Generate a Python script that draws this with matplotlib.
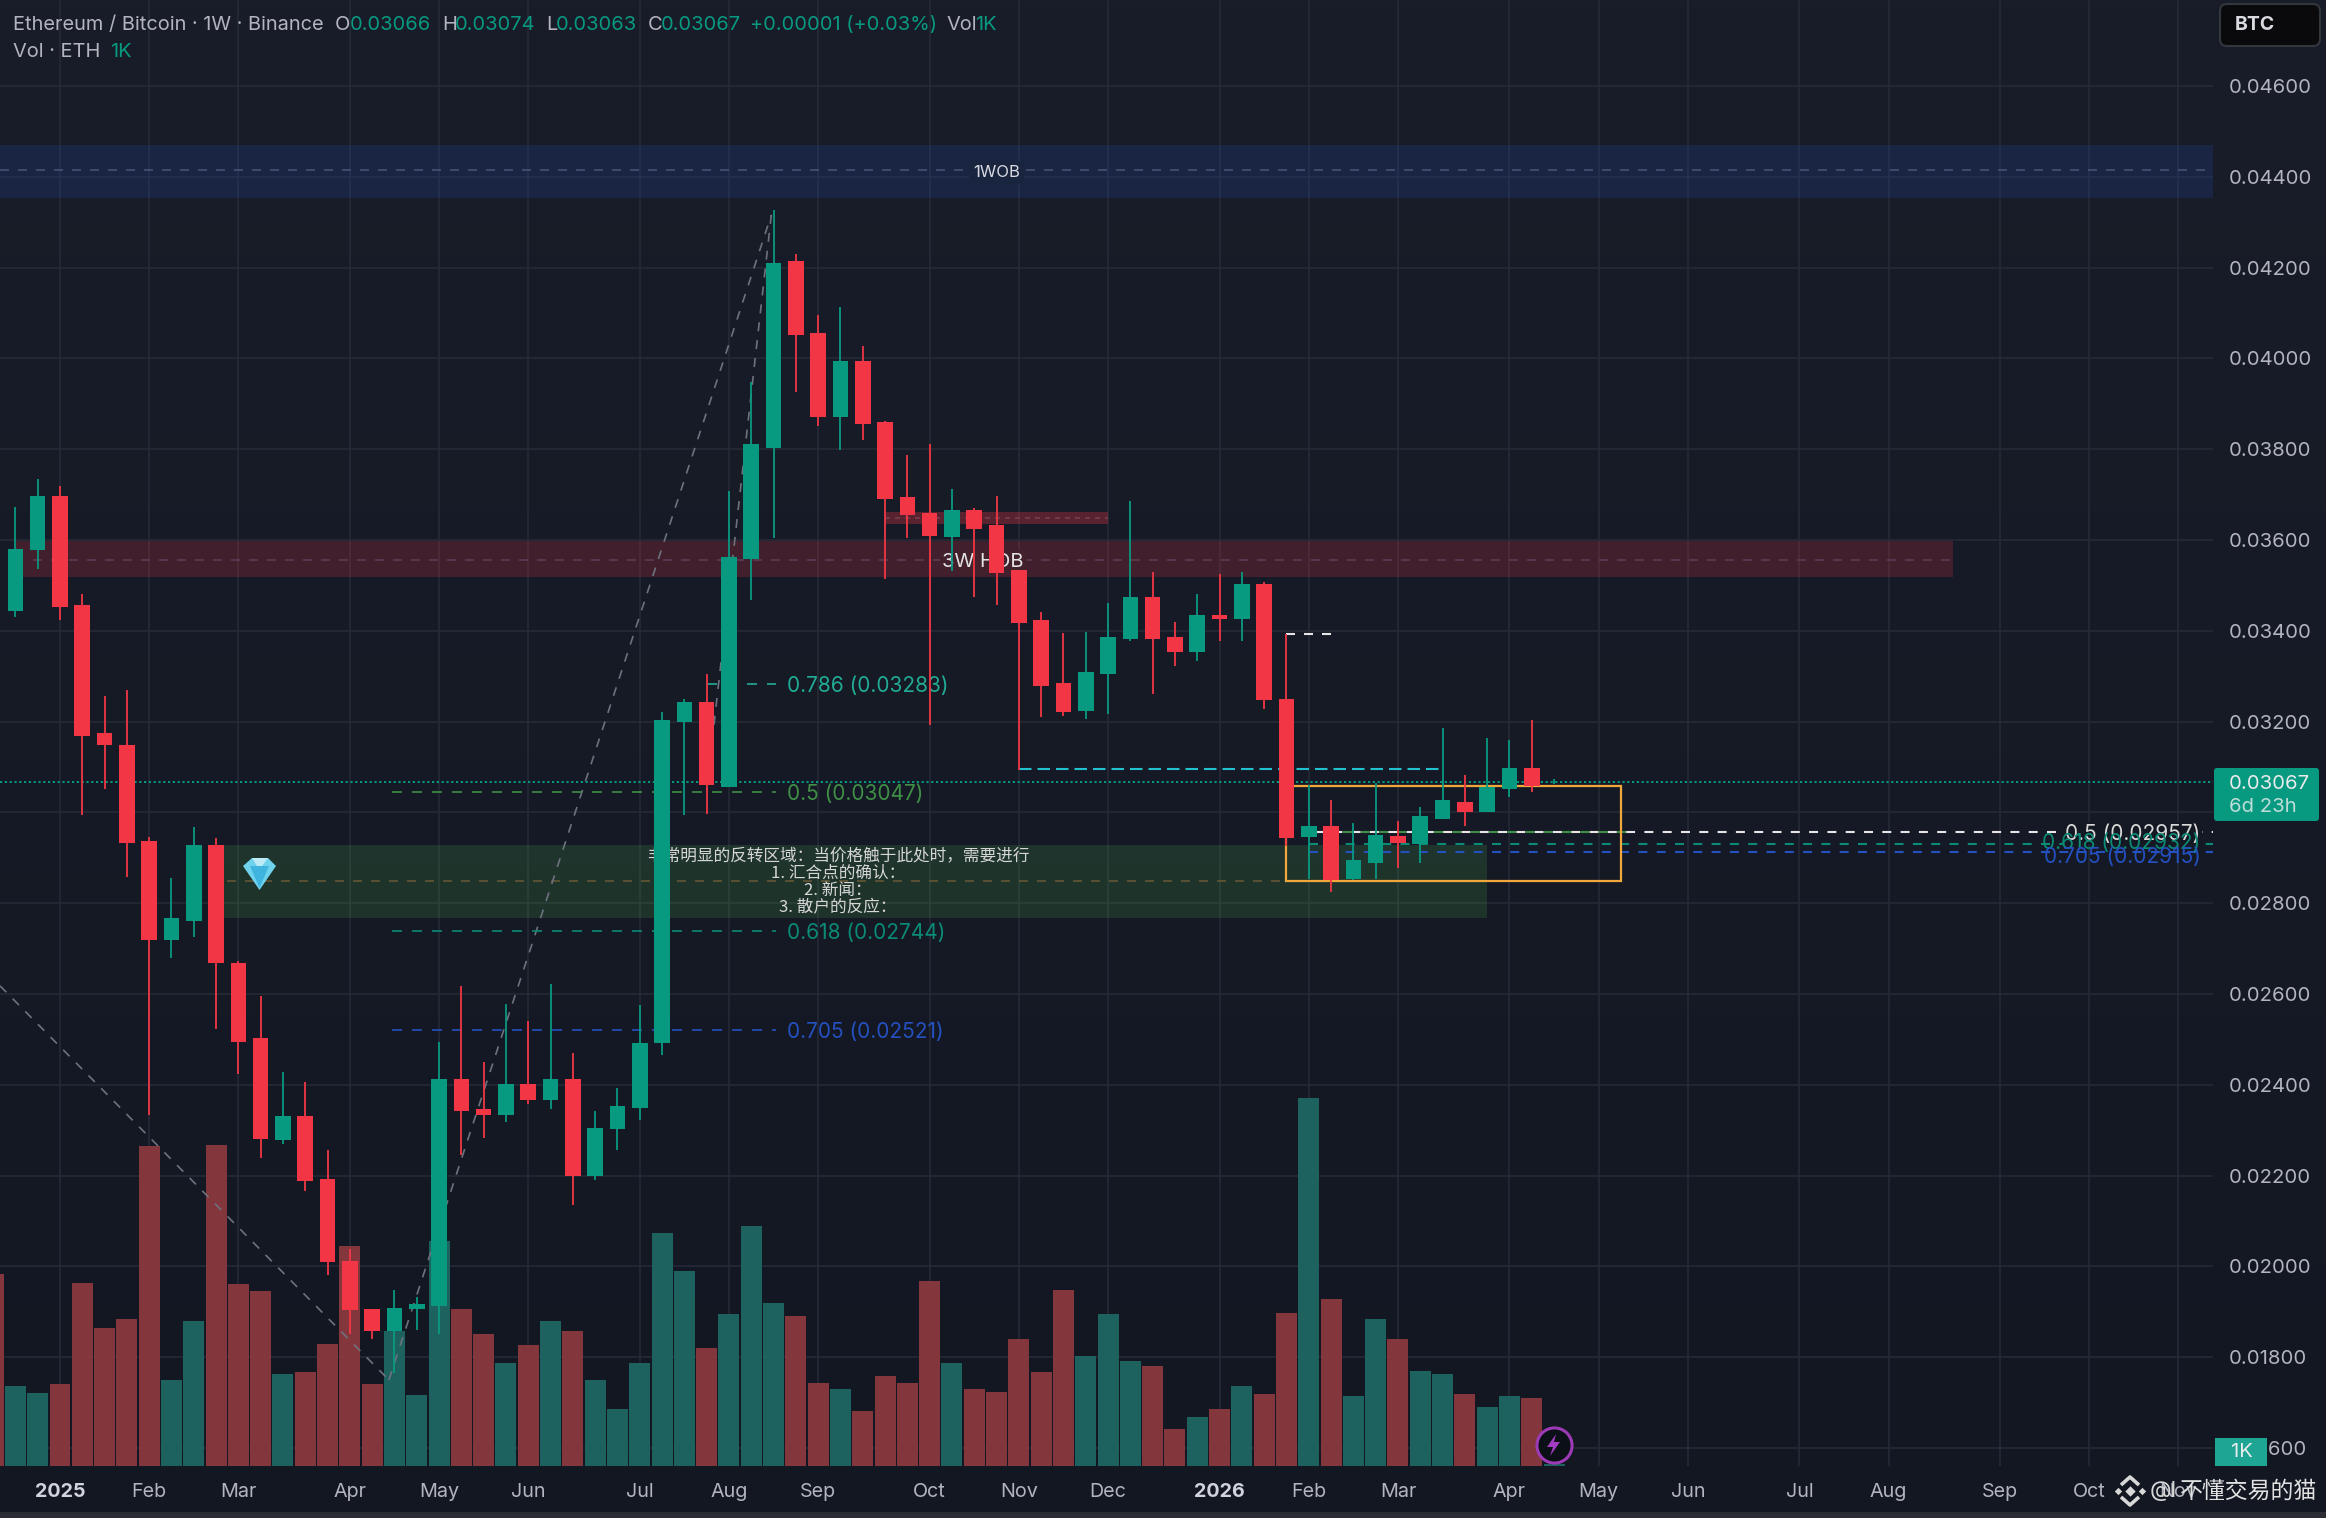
import matplotlib
matplotlib.use("Agg")
import matplotlib.pyplot as plt
import numpy as np
from matplotlib.patches import FancyBboxPatch, Rectangle

plt.rcParams['font.family'] = ['Inter', 'Noto Sans CJK SC', 'DejaVu Sans']
plt.rcParams['lines.scale_dashes'] = False

# weekly candles
opens = [.03444, .03578, .03698, .03457, .03175, .03149, .02937, .02719, .02761, .02928,
         .02668, .02503, .02278, .02331, .02193, .02012, .01906, .01858, .01906, .01913,
         .02413, .02346, .02334, .02402, .02367, .02413, .02199, .02303, .02349, .02492,
         .03199, .03244, .03056, .03558, .03803, .04215, .04057, .03870, .03995, .03860,
         .03695, .03659, .03607, .03666, .03633, .03533, .03423, .03285, .03224, .03304,
         .03381, .03475, .03386, .03353, .03434, .03426, .03504, .03250, .02946, .02969,
         .02853, .02888, .02947, .02931, .02986, .03024, .03001, .03052, .03097, .03066]
highs = [.03673, .03734, .03719, .03481, .03256, .03270, .02946, .02856, .02968, .02944,
         .02673, .02596, .02428, .02406, .02256, .02038, .01906, .01949, .01933, .02494,
         .02618, .02451, .02578, .02541, .02622, .02470, .02342, .02393, .02576, .03222,
         .03250, .03305, .03708, .03947, .04327, .04229, .04096, .04113, .04027, .03863,
         .03787, .03812, .03712, .03671, .03698, .03533, .03441, .03395, .03398, .03461,
         .03687, .03529, .03419, .03482, .03525, .03529, .03508, .03394, .03060, .03027,
         .02976, .03065, .02980, .03013, .03185, .03082, .03163, .03160, .03204, .03074]
lows = [.03430, .03536, .03423, .02994, .03052, .02858, .02334, .02679, .02726, .02523,
        .02423, .02239, .02269, .02166, .01981, .01851, .01840, .01765, .01860, .01851,
        .02245, .02283, .02317, .02358, .02346, .02136, .02190, .02256, .02323, .02466,
        .02994, .02997, .03056, .03468, .03604, .03927, .03851, .03799, .03820, .03514,
        .03604, .03193, .03532, .03474, .03457, .03093, .03210, .03213, .03206, .03216,
        .03378, .03261, .03323, .03333, .03378, .03378, .03228, .02925, .02853, .02824,
        .02851, .02853, .02877, .02888, .02986, .02971, .03001, .03033, .03044, .03063]
closes = [.03580, .03698, .03452, .03169, .03149, .02932, .02719, .02767, .02928, .02668,
          .02494, .02281, .02331, .02188, .02010, .01904, .01858, .01908, .01917, .02413,
          .02342, .02334, .02402, .02367, .02413, .02199, .02305, .02353, .02492, .03204,
          .03243, .03060, .03563, .03812, .04211, .04052, .03870, .03995, .03855, .03690,
          .03654, .03609, .03666, .03624, .03527, .03417, .03279, .03221, .03310, .03386,
          .03475, .03381, .03353, .03434, .03426, .03504, .03247, .02943, .02969, .02851,
          .02895, .02950, .02932, .02991, .03027, .03001, .03055, .03097, .03059, .03067]
volumes = [40.2, 36.3, 40.9, 91.5, 69.1, 73.3, 159.9, 42.8, 72.5, 160.7,
           90.8, 87.6, 45.9, 46.9, 61.0, 109.8, 40.9, 67.3, 35.5, 112.4,
           78.5, 66.0, 51.6, 60.3, 72.5, 67.6, 42.8, 28.7, 51.6, 116.6,
           97.5, 59.2, 75.9, 120.2, 81.6, 75.1, 41.7, 38.6, 27.6, 45.1,
           41.7, 92.6, 51.6, 38.6, 36.8, 63.4, 46.9, 88.2, 55.0, 75.8,
           52.5, 50.0, 18.5, 24.3, 28.5, 40.2, 35.8, 76.7, 184.2, 83.3,
           35.2, 73.3, 63.3, 47.7, 46.0, 35.8, 29.3, 35.2, 34.2, 1.0]
prev_volume = 96.0

price_ticks = [.046, .044, .042, .040, .038, .036, .034, .032, .030, .028, .026, .024, .022, .020, .018, .016]
month_idx = [2, 6, 10, 15, 19, 23, 28, 32, 36, 41, 45, 49, 54, 58, 62, 67, 71, 75, 80, 84, 89, 93, 97]
month_labels = ['2025', 'Feb', 'Mar', 'Apr', 'May', 'Jun', 'Jul', 'Aug', 'Sep', 'Oct', 'Nov', 'Dec',
                '2026', 'Feb', 'Mar', 'Apr', 'May', 'Jun', 'Jul', 'Aug', 'Sep', 'Oct', 'Nov']

note_lines = ['非常明显的反转区域：当价格触于此处时，需要进行', '1. 汇合点的确认：', '2. 新闻：', '3. 散户的反应：']
note_prices = [.02902, .02865, .02828, .02792]

UP = '#089981'
DOWN = '#F23645'
GRID = '#262B37'
TXT = '#B2B5BE'
W, H = 2326, 1518
PX = 0.72  # points per pixel at dpi 100


def dash(on, off):
    return (0, (on * PX, off * PX))


fig = plt.figure(figsize=(W / 100, H / 100), dpi=100)
pos = [0, 52 / H, 2213 / W, 1466 / H]

# background, slightly lighter at the top
bg = fig.add_axes([0, 0, 1, 1], zorder=0)
shade = np.linspace(0, 1, 256)[:, None, None]
grad = (np.array([25, 29, 41]) * (1 - shade) + np.array([18, 23, 34]) * shade) / 255
bg.imshow(grad, aspect='auto', extent=[0, 1, 0, 1])
bg.axis('off')

# price scale, grid
ax = fig.add_axes(pos, zorder=1)
ax.patch.set_visible(False)
ax.set_xlim(-0.69, 98.55)
ax.set_ylim(.015604, .047894)

# volume pane
ax_vol = ax.twinx()
ax_vol.set_zorder(2)
ax_vol.set_ylim(0, 733)
ax_vol.axis('off')
vol_colors = ['#1E625F' if c >= o else '#83363B' for o, c in zip(opens, closes)]
ax_vol.bar(range(len(volumes)), volumes, width=0.94, color=vol_colors)
ax_vol.bar([-1], [prev_volume], width=0.94, color='#83363B')

ax.yaxis.tick_right()
ax.set_yticks(price_ticks, [f'{p:.5f}' for p in price_ticks])
ax.set_xticks(month_idx, month_labels)
ax.tick_params(axis='y', length=0, pad=11, labelsize=14.6, labelcolor=TXT)
ax.tick_params(axis='x', length=0, pad=12.5, labelsize=14.2, labelcolor=TXT)
for lab in ax.get_xticklabels():
    if lab.get_text() in ('2025', '2026'):
        lab.set_fontweight('bold')
        lab.set_color('#D1D4DC')
ax.grid(True, color=GRID, lw=1.1)
ax.set_axisbelow(True)
for s in ax.spines.values():
    s.set_visible(False)

# drawings and candles
top = fig.add_axes(pos, zorder=3, sharex=ax, sharey=ax)
top.axis('off')

# order blocks
top.axhspan(.04353, .04471, color='#2962FF', alpha=.13, lw=0, zorder=1)
top.axhline(.04414, color='#4A5578', lw=1.1, ls=dash(9, 9), zorder=2)
top.text(44, .04410, '1WOB', color='#D8DAE0', fontsize=12, ha='center', va='center', zorder=2,
         bbox=dict(fc='#19243F', ec='none', pad=3))

top.fill_between([0, 86.9], .03519, .03597, color=DOWN, alpha=.2, lw=0, zorder=1)
top.plot([0.8, 86.9], [.03556, .03556], color='#5F3F58', lw=1.1, ls=dash(9, 9), zorder=2)
top.text(43.4, .03552, '3W HOB', color='#E4E4E6', fontsize=14.5, ha='center', va='center', zorder=2,
         bbox=dict(fc='#42202C', ec='none', pad=2))

top.fill_between([39, 49], .03635, .03661, color=DOWN, alpha=.3, lw=0, zorder=1)
top.plot([39, 49], [.03648, .03648], color='#7A3F55', lw=1.1, ls=dash(5, 5), zorder=2)

top.fill_between([9, 66], .02767, .02928, color='#4CAF50', alpha=.18, lw=0, zorder=1)
top.plot([9.5, 66], [.02849, .02849], color='#5E5433', lw=1.3, ls=dash(9, 9), zorder=2)

for line, price in zip(note_lines, note_prices):
    top.text(36.9, price, line, color='#D6D6D6', fontsize=12, ha='center', va='center', zorder=2,
             family=['Noto Sans CJK SC', 'DejaVu Sans'])

# trend lines
top.plot([16.75, 33.9], [.01750, .04316], color='#6E727E', lw=1.2, ls=dash(9, 9), zorder=2)
top.plot([33.9, 31], [.04316, .03050], color='#6E727E', lw=1.2, ls=dash(9, 9), zorder=2)
top.plot([-0.69, 16.75], [.02618, .01750], color='#6E727E', lw=1.2, ls=dash(9, 9), zorder=2)

# fib levels, left set
top.plot([31, 34.1], [.03282, .03282], color='#22AB94', lw=1.2, ls=dash(10, 10), zorder=2)
top.plot([16.9, 34.1], [.03044, .03044], color='#3F8F46', lw=1.2, ls=dash(10, 10), zorder=2)
top.plot([16.9, 34.1], [.02739, .02739], color='#0B8A76', lw=1.2, ls=dash(10, 10), zorder=2)
top.plot([16.9, 34.1], [.02521, .02521], color='#2450C0', lw=1.2, ls=dash(10, 10), zorder=2)
top.text(34.6, .03278, '0.786 (0.03283)', color='#22AB94', fontsize=15, va='center', zorder=2)
top.text(34.6, .03040, '0.5 (0.03047)', color='#3F8F46', fontsize=15, va='center', zorder=2)
top.text(34.6, .02735, '0.618 (0.02744)', color='#0B8A76', fontsize=15, va='center', zorder=2)
top.text(34.6, .02517, '0.705 (0.02521)', color='#2450C0', fontsize=15, va='center', zorder=2)

# fib levels, right set
top.plot([58.3, 98.55], [.02957, .02957], color='#E6E6E6', lw=1.5, ls=dash(9, 9.3), zorder=2)
top.plot([58.3, 72.6], [.02957, .02957], color='#3F8F46', lw=1.5, ls=(9 * PX, (9 * PX, 9.3 * PX)), zorder=2)
top.plot([58, 98.55], [.02930, .02930], color='#0B8A76', lw=1.5, ls=dash(9, 9.3), zorder=2)
top.plot([58, 98.55], [.02912, .02912], color='#2450C0', lw=1.5, ls=dash(9, 9.3), zorder=2)
top.text(98, .02953, '0.5 (0.02957)', color='#D8D8D8', fontsize=15, ha='right', va='center', zorder=2,
         bbox=dict(fc='#141823', ec='none', pad=1))
top.text(98, .02932, '0.618 (0.02932)', color='#0B8A76', fontsize=15, ha='right', va='center', zorder=2)
top.text(98, .02902, '0.705 (0.02915)', color='#2450C0', fontsize=15, ha='right', va='center', zorder=2)

# other levels
top.plot([45, 64], [.03095, .03095], color='#22C1CF', lw=1.5, ls=dash(12.5, 6), zorder=2)
top.plot([57, 59.2], [.03392, .03392], color='#E6E6E6', lw=1.5, ls=dash(9, 9), zorder=2)
top.axhline(.03067, color=UP, lw=1.4, ls=dash(2.2, 2.6), zorder=2)

# box
top.add_patch(Rectangle((57, .02849), 15, .0021, fc='none', ec='#F0A83C', lw=1.6, zorder=3))

# candles
xs = np.arange(len(opens))
colors = [UP if c >= o else DOWN for o, c in zip(opens, closes)]
top.vlines(xs, lows, highs, colors=colors, lw=1.3, zorder=5)
top.bar(xs, np.abs(np.array(closes) - np.array(opens)), bottom=np.minimum(opens, closes),
        width=0.7, color=colors, lw=0, zorder=6)

# page furniture, in pixels
ui = fig.add_axes([0, 0, 1, 1], zorder=4)
ui.set_xlim(0, W)
ui.set_ylim(H, 0)
ui.axis('off')

# diamond
ui.fill([243, 252, 268, 276, 259.5], [866, 858, 858, 866, 890], color='#6FD3EE', lw=0)
ui.fill([250, 269, 259.5], [866, 866, 888], color='#3FB4DF', lw=0)
ui.fill([252, 268, 262, 257], [858, 858, 866, 866], color='#BCEBF7', lw=0)

header = [(13, 'Ethereum / Bitcoin · 1W · Binance', TXT), (335, 'O', TXT), (350, '0.03066', UP),
          (442, 'H', TXT), (455, '0.03074', UP), (546, 'L', TXT), (556, '0.03063', UP),
          (648, 'C', TXT), (661, '0.03067', UP), (750, '+0.00001 (+0.03%)', UP),
          (946, 'Vol', TXT), (975, '1K', UP)]
for x, s, c in header:
    ui.text(x, 25, s, color=c, fontsize=14.4, va='center')
ui.text(13, 52, 'Vol · ETH', color=TXT, fontsize=14.4, va='center')
ui.text(110, 52, '1K', color=UP, fontsize=14.4, va='center')

# BTC button
ui.add_patch(FancyBboxPatch((2220, 4), 100, 42, boxstyle='round,pad=0,rounding_size=7',
                            fc='#0A0A0C', ec='#32363D', lw=1.5))
ui.text(2255, 25, 'BTC', color='#D8DADF', fontsize=14, ha='center', va='center', fontweight='bold')

# last price tag
ui.add_patch(FancyBboxPatch((2214, 768), 105, 53, boxstyle='round,pad=0,rounding_size=3', fc=UP, ec='none'))
ui.text(2229, 784, '0.03067', color='#E8ECEC', fontsize=14.6, va='center')
ui.text(2229, 807, '6d 23h', color='#BFDDD8', fontsize=14.6, va='center')

# volume tag
ui.add_patch(Rectangle((2215, 1438), 52, 28, fc='#1EA594', ec='none'))
ui.text(2242, 1452, '1K', color='#E8ECEC', fontsize=14.6, ha='center', va='center')

# lightning badge
ui.scatter([1553.6], [1445], s=640, fc='#0B0F16', ec='#9C3BB5', lw=2.2)
ui.fill([1556, 1547, 1553, 1550, 1560, 1554], [1434, 1447, 1447, 1456, 1442, 1442], color='#A23CC0', lw=0)

# bottom strip
ui.add_patch(Rectangle((0, 1512), W, 6, fc='#2A2D33', ec='none'))

# watermark
ui.scatter([2130], [1491], marker='D', s=28, color='#D8D8D8', lw=0)
ui.scatter([2118, 2142], [1491, 1491], marker='D', s=14, color='#D8D8D8', lw=0)
ui.plot([2121, 2130, 2139], [1485, 1477, 1485], color='#D8D8D8', lw=2.6, solid_capstyle='butt')
ui.plot([2121, 2130, 2139], [1497, 1505, 1497], color='#D8D8D8', lw=2.6, solid_capstyle='butt')
ui.text(2150, 1491, '@l', color='#D8D8D8', fontsize=16, va='center')
ui.text(2317, 1491, '不懂交易的猫', color='#E2E2E2', fontsize=16.5, ha='right', va='center',
        family=['Noto Sans CJK SC', 'DejaVu Sans'])

fig.savefig('out.png', dpi=100)
